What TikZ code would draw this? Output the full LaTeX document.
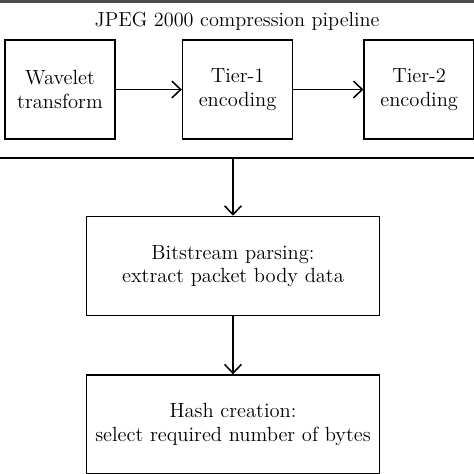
\documentclass[tikz,border=0pt]{standalone}
\usepackage{tikz}
\usetikzlibrary{
  calc,
  positioning,
  arrows.meta
}
\tikzset{>={Straight Barb[length=0.22cm,width=0.42cm]}}
\tikzset{
  stage/.style={draw, line width=1.1pt, minimum width=2.75cm, minimum height=2.475cm,
    align=center, font=\fontsize{14.6}{16.8}\selectfont},
  wide/.style={stage, minimum width=7.325cm}
}

\begin{document}
\begin{tikzpicture}[x=0.025cm,y=-0.025cm]
			\useasboundingbox (0,0) rectangle (474,474);
			\draw[line width=2.2pt, black!70] (0,1) -- (474,1);

			\node[font=\fontsize{14.4}{16.8}\selectfont] (title) at (237,21) {JPEG 2000 compression pipeline};

			\node[stage] (wavelet) at (60,89.5) {Wavelet\\transform};
			\node[stage, right=1.65cm of wavelet] (tierone) {Tier-1\\encoding};
			\node[stage, right=1.75cm of tierone] (tiertwo) {Tier-2\\encoding};

			\draw[->, line width=1.1pt] (wavelet) -- (tierone);
			\draw[->, line width=1.1pt] (tierone) -- (tiertwo);

			\coordinate (lineL) at (0,158);
			\coordinate (lineR) at (474,158);
			\draw[line width=1.1pt] (lineL) -- (lineR);
			\coordinate (split) at (233,158);

			\node[wide] (parse) at (233,266) {Bitstream parsing:\\extract packet body data};
			\node[wide, below=1.45cm of parse] (hash) {Hash creation:\\select required number of bytes};

			\draw[->, line width=1.1pt] (split) -- (parse.north);
			\draw[->, line width=1.1pt] (parse) -- (hash);
		\end{tikzpicture}
\end{document}
